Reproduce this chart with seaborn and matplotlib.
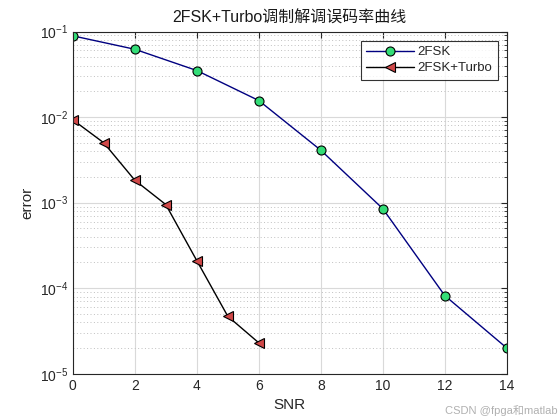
import numpy as np
import pandas as pd
import seaborn as sns
import matplotlib.pyplot as plt
from matplotlib.ticker import LogLocator, NullFormatter

# data
snr_fsk = [0, 2, 4, 6, 8, 10, 12, 14]
err_fsk = [0.089, 0.062, 0.035, 0.0156, 0.0041, 0.00085, 0.000082, 0.000020]
snr_turbo = [0, 1, 2, 3, 4, 5, 6]
err_turbo = [0.0093, 0.0050, 0.00183, 0.00095, 0.00021, 0.000047, 0.000023]

sns.set_style("white")
plt.rcParams["font.family"] = ["Liberation Sans", "Noto Sans CJK SC", "DejaVu Sans"]
plt.rcParams["mathtext.fontset"] = "custom"
plt.rcParams["mathtext.rm"] = "Liberation Sans"
plt.rcParams["mathtext.it"] = "Liberation Sans"

df_fsk = pd.DataFrame({"SNR": snr_fsk, "error": err_fsk})
df_turbo = pd.DataFrame({"SNR": snr_turbo, "error": err_turbo})

fig = plt.figure(figsize=(5.6, 4.2), dpi=100)
ax = fig.add_axes([0.13, 0.11, 0.775, 0.815])

sns.lineplot(data=df_fsk, x="SNR", y="error", ax=ax, color="#000080", lw=1,
             marker="o", markersize=6.5, markerfacecolor="#33dd77",
             markeredgecolor="black", markeredgewidth=0.8, label="2FSK")
sns.lineplot(data=df_turbo, x="SNR", y="error", ax=ax, color="black", lw=1,
             marker="<", markersize=7.5, markerfacecolor="#d04848",
             markeredgecolor="black", markeredgewidth=0.8, label="2FSK+Turbo")

ax.set_yscale("log")
ax.set_xlim(0, 14)
ax.set_ylim(1e-5, 1e-1)
ax.set_xticks(range(0, 15, 2))
ax.yaxis.set_major_locator(LogLocator(base=10, numticks=10))
ax.yaxis.set_minor_locator(LogLocator(base=10, subs=np.arange(2, 10), numticks=20))
ax.yaxis.set_minor_formatter(NullFormatter())

ax.grid(True, which="major", color="#d9d9d9", lw=0.8, ls="-")
ax.grid(True, which="minor", axis="y", color="#c0c0c0", lw=0.7, ls=(0, (1, 2.5)))
ax.tick_params(which="both", direction="in", top=True, right=True, colors="#262626",
               labelsize=10, labelcolor="#262626")
ax.tick_params(which="major", length=4)
ax.tick_params(which="minor", length=2)
for s in ax.spines.values():
    s.set_color("#262626")
    s.set_linewidth(0.8)

ax.set_xlabel("SNR", fontsize=11, color="#262626")
ax.set_ylabel("error", fontsize=11, color="#262626")
ax.set_title("2FSK+Turbo调制解调误码率曲线", fontsize=11.5, color="#1a1a1a")

leg = ax.legend(loc="upper right", fontsize=9.5, frameon=True, fancybox=False,
                edgecolor="black", handlelength=3.6, handletextpad=0.3,
                borderaxespad=0.7, borderpad=0.4, labelspacing=0.3)
leg.get_frame().set_linewidth(0.8)

fig.text(0.995, 0.01, "CSDN @fpga和matlab", ha="right", va="bottom",
         fontsize=8, color="#b0b0b0")

fig.savefig("out.png", dpi=100)
